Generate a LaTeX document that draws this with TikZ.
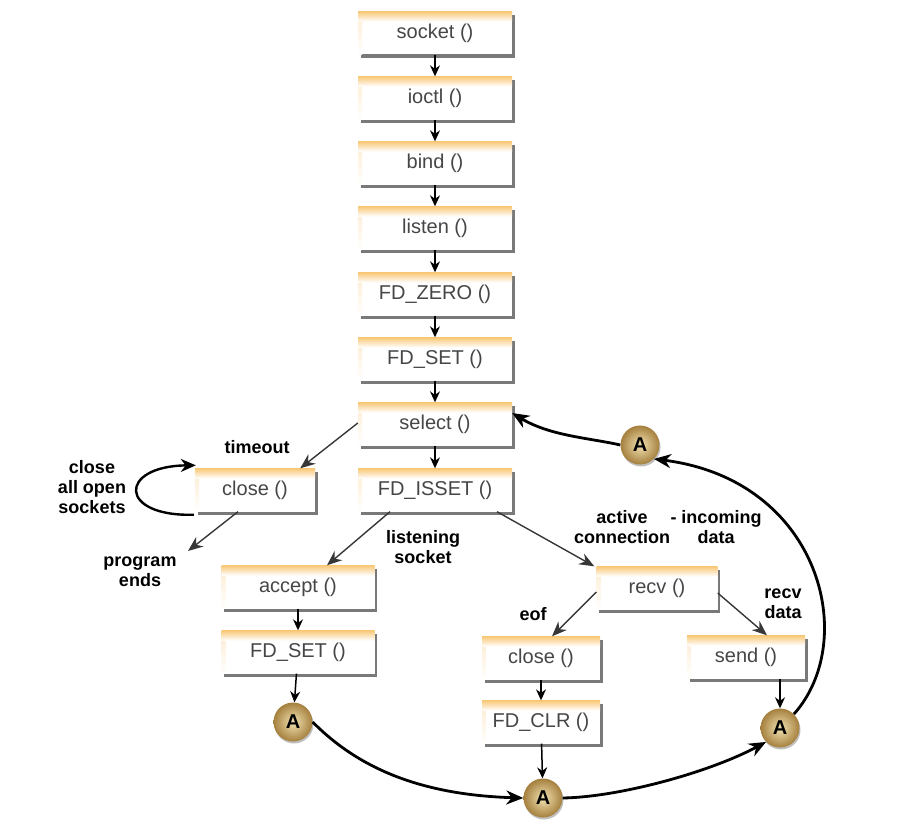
\documentclass[tikz,border=0pt]{standalone}
\usepackage{fontspec}
\setmainfont{Liberation Sans}
\usetikzlibrary{arrows.meta,shadows}
\definecolor{boxor}{RGB}{248,200,120}
\definecolor{ballin}{RGB}{242,226,178}
\definecolor{ballout}{RGB}{165,128,62}
\definecolor{txtgray}{RGB}{70,70,70}
\definecolor{arrgray}{RGB}{55,55,55}
\tikzset{
  box/.style={fill=white, minimum width=154pt, minimum height=43pt, inner sep=0pt,
    font=\fontsize{20}{22}\selectfont, text=txtgray,
    drop shadow={shadow xshift=2.5pt, shadow yshift=-3.5pt, fill=black!75, opacity=0.7},
    path picture={
      \shade[top color=boxor!35, bottom color=white] (path picture bounding box.north west) rectangle ([xshift=4pt]path picture bounding box.south west);
      \shade[top color=boxor, bottom color=white] (path picture bounding box.north west) rectangle ([yshift=-10pt]path picture bounding box.north east);
    }},
  ball/.style={circle, minimum size=39pt, inner sep=0pt, inner color=ballin, outer color=ballout,
    font=\bfseries\fontsize{20}{20}\selectfont,
    drop shadow={shadow xshift=1pt, shadow yshift=-2pt, fill=black!50, opacity=0.5}},
  lbl/.style={font=\bfseries\fontsize{18}{20}\selectfont, align=center, inner sep=0pt},
  thin/.style={draw=arrgray, line width=1.4pt, -{Stealth[length=15pt,width=12pt]}},
  vert/.style={draw=black, line width=1.5pt, -{Stealth[length=11pt,width=10pt]}},
  thick/.style={draw=black, line width=2.8pt, -{Stealth[length=17pt,width=14pt]}},
}
\begin{document}
\begin{tikzpicture}[x=1pt,y=-1pt]
\useasboundingbox (0,0) rectangle (901,832);
% main column
\node[box] (socket) at (435,33) {socket ()};
\node[box] (ioctl) at (435,98) {ioctl ()};
\node[box] (bind) at (435,163) {bind ()};
\node[box] (listen) at (435,228) {listen ()};
\node[box] (fdzero) at (435,294) {FD\_ZERO ()};
\node[box] (fdset) at (435,359) {FD\_SET ()};
\node[box] (select) at (435,424) {select ()};
\node[box] (fdisset) at (435,490) {FD\_ISSET ()};
% side boxes
\node[box, minimum width=120pt] (close) at (255,490) {close ()};
\node[box, minimum width=153pt] (accept) at (298,587) {accept ()};
\node[box, minimum width=153pt] (fdset2) at (298,652) {FD\_SET ()};
\node[box, minimum width=121pt] (recv) at (657,588) {recv ()};
\node[box, minimum width=118pt] (close2) at (541,658) {close ()};
\node[box, minimum width=118pt] (fdclr) at (541,722) {FD\_CLR ()};
\node[box, minimum width=118pt] (send) at (746,657) {send ()};
% balls
\node[ball] (a1) at (293,722) {A};
\node[ball] (a2) at (543,798) {A};
\node[ball] (a3) at (780,728) {A};
\node[ball] (a4) at (640,445) {A};
% labels
\node[lbl] (ltimeout) at (257,447) {timeout};
\node[lbl] (lcloseall) at (92,487) {close\\all open\\sockets};
\node[lbl] (lprog) at (140,572) {program\\ends};
\node[lbl] (llisten) at (423,547) {listening\\socket};
\node[lbl] (lactive) at (622,527) {active\\connection};
\node[lbl] (lincoming) at (716,527) {- incoming\\data};
\node[lbl] (leof) at (533,614) {eof};
\node[lbl] (lrecv) at (783,604) {recv\\data};
% coordinates
\coordinate (pend) at (188,551);
% vertical arrows
\draw[vert] (socket) -- (ioctl);
\draw[vert] (ioctl) -- (bind);
\draw[vert] (bind) -- (listen);
\draw[vert] (listen) -- (fdzero);
\draw[vert] (fdzero) -- (fdset);
\draw[vert] (fdset) -- (select);
\draw[vert] (select) -- (fdisset);
\draw[vert] (accept) -- (fdset2);
\draw[vert] (fdset2) -- (a1);
\draw[vert] (close2) -- (fdclr);
\draw[vert] (fdclr) -- (a2);
\draw[vert] (send.south -| a3) -- (a3);
% diagonal arrows
\draw[thin] ([yshift=1pt]select.west) -- ([xshift=-15pt]close.north east);
\draw[thin] ([xshift=-17pt]close.south) -- (pend);
\draw[thin] ([xshift=-45pt]fdisset.south) -- ([xshift=29pt]accept.north);
\draw[thin] ([xshift=62pt]fdisset.south) -- ([xshift=-2pt]recv.north west);
\draw[thin] ([yshift=-4pt]recv.west) -- ([xshift=11pt]close2.north);
\draw[thin] ([yshift=-5pt]recv.east) -- ([xshift=21pt]send.north);
% close loop
\draw[line width=2.4pt, black, -{Stealth[length=15pt,width=13pt]}] ([xshift=-1pt,yshift=-3pt]close.south west) .. controls (118,517) and (118,466) .. ([xshift=1pt,yshift=3pt]close.north west);
% big cycle
\draw[thick] (a1.east) .. controls (360,770) and (424,795) .. (a2.west);
\draw[thick] (a2.east) .. controls (620,797) and (710,772) .. (a3.south west);
\draw[thick] (a3.north east) .. controls (860,640) and (820,480) .. (a4.south east);
\draw[thick] (a4.west) .. controls (590,438) and (550,436) .. ([yshift=11pt]select.east);
\end{tikzpicture}
\end{document}
